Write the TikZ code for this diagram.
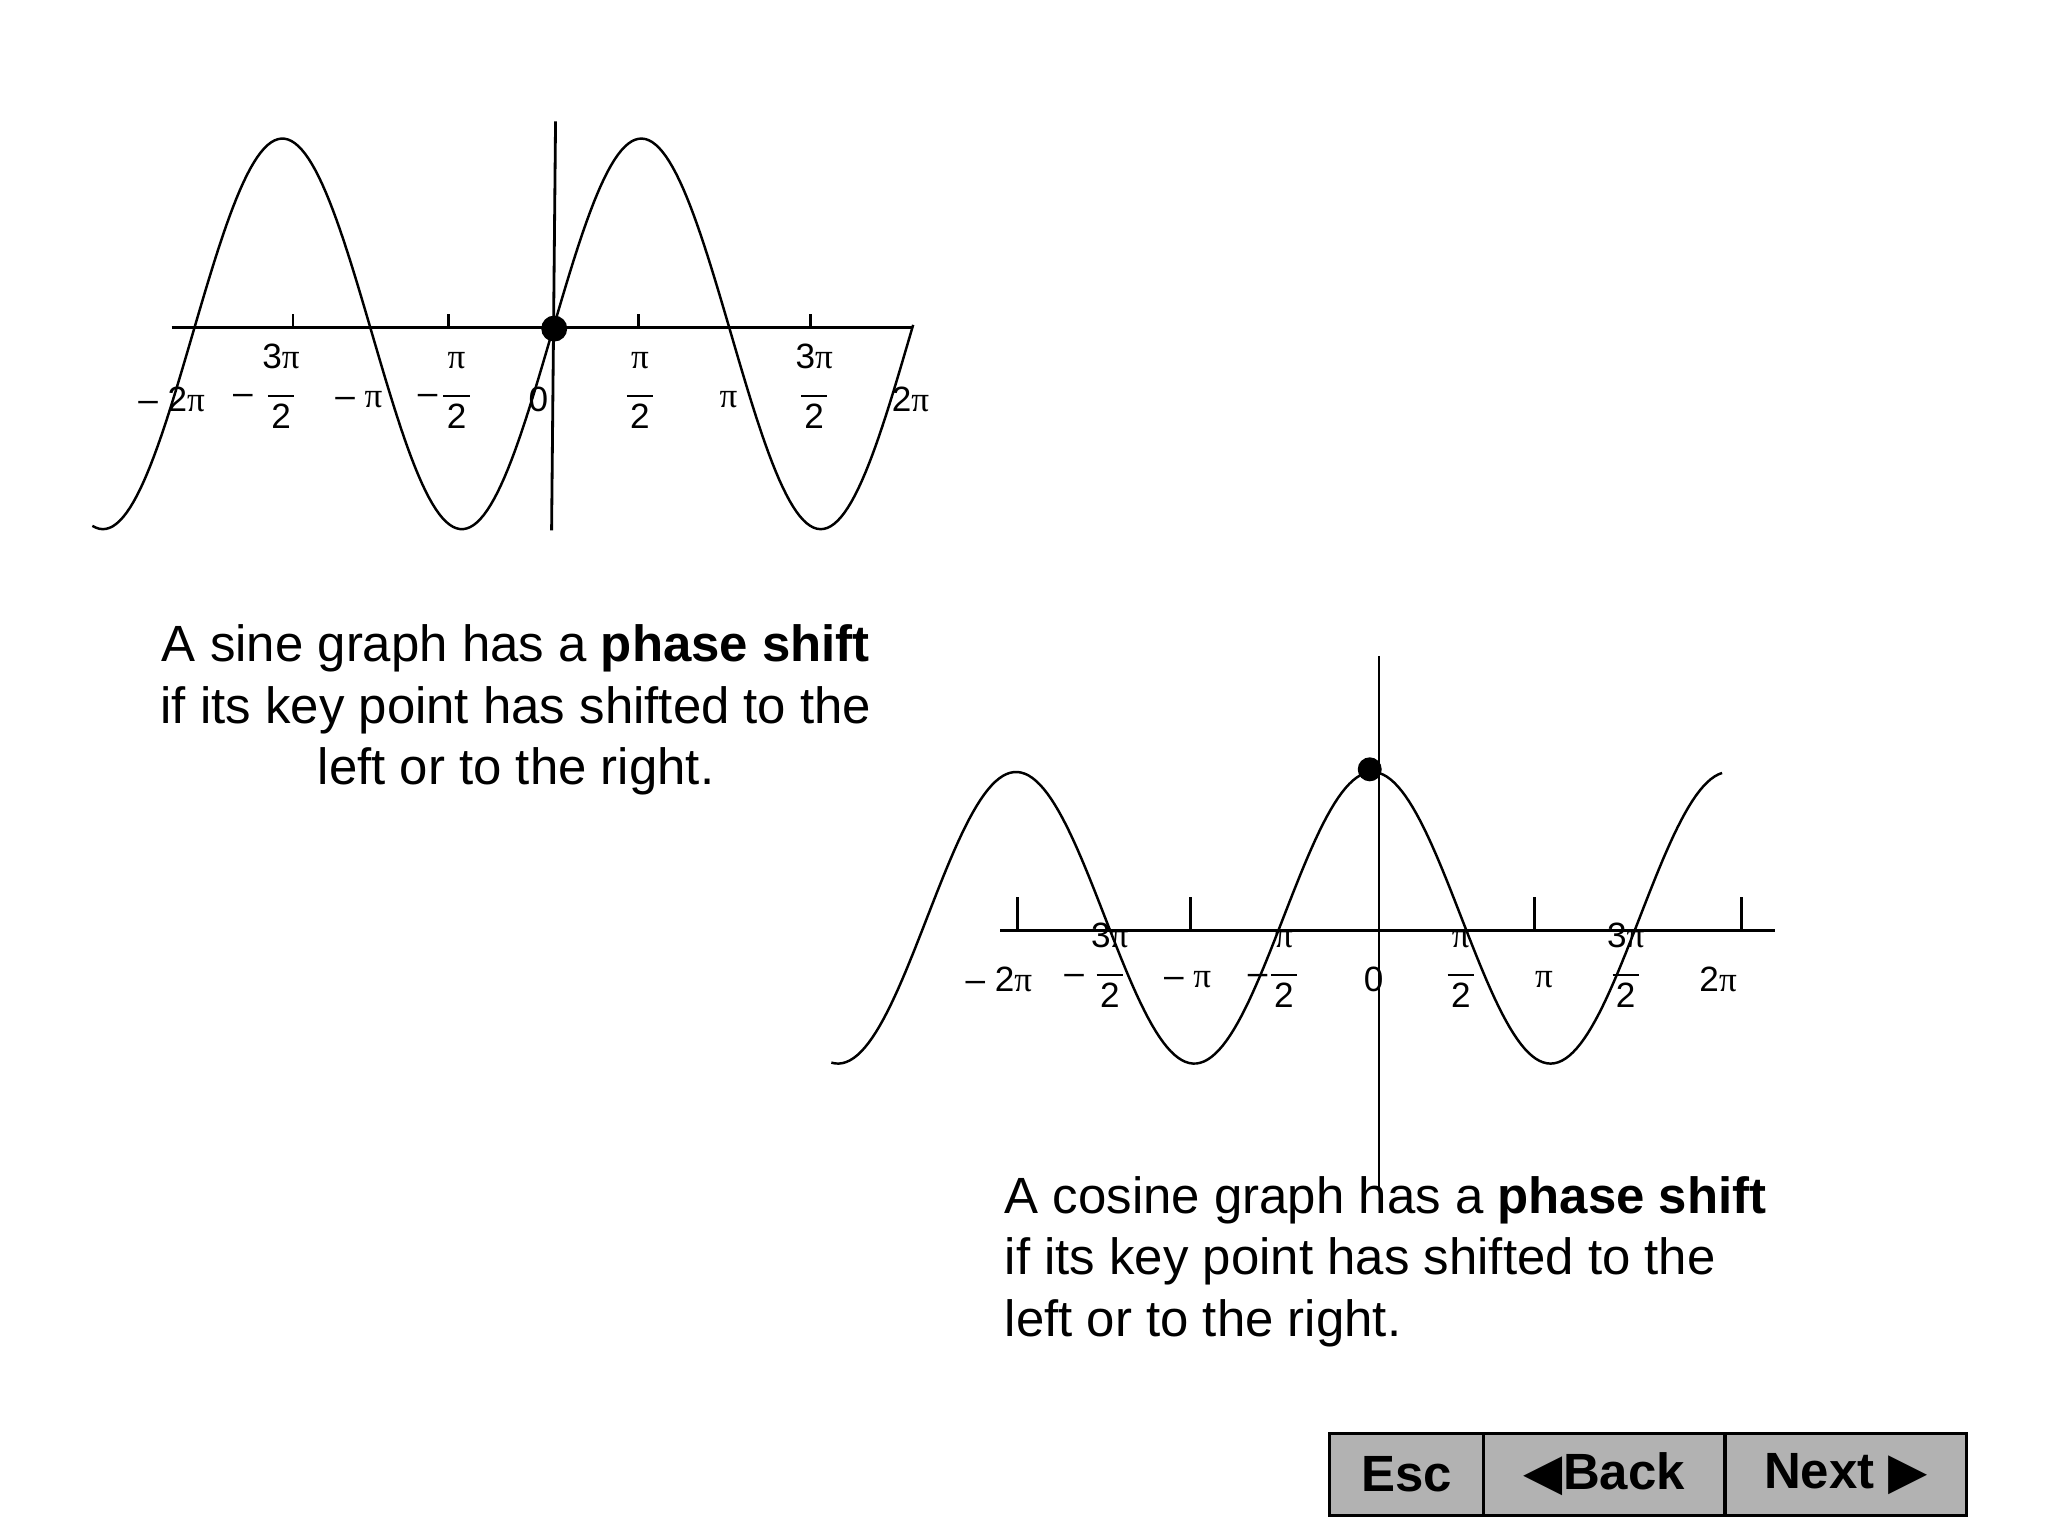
\documentclass[tikz,border=0pt]{standalone}
\usepackage{fontspec}
\setmainfont{Liberation Sans}
\newfontfamily\symf{DejaVu Sans}
\newfontfamily\pif{Liberation Serif}
\newcommand{\mypi}{{\pif π}}
\newcommand{\myfr}[2]{\begin{tabular}{@{}c@{}}#1\\[-3pt]\rule{0.75em}{0.4pt}\\[-2pt]#2\end{tabular}}
\tikzset{lab/.style={font=\fontsize{10}{11}\selectfont,inner sep=0pt},
 curve/.style={line width=0.7pt},
 ax/.style={line width=0.8pt},
 dot/.style={circle,fill=black,inner sep=0pt,minimum size=#1},
 btn/.style={draw=black,line width=1pt,fill=gray!60,minimum height=0.82cm,font=\fontsize{14.5}{16}\selectfont\bfseries}}
\begin{document}
\begin{tikzpicture}[x=0.0132cm,y=-0.0132cm]
\useasboundingbox (0,0) rectangle (1552,1164);
% top graph
\draw[ax] (130,248) -- (692,248);
\draw[ax] (421,92) -- (418,402);
\foreach \t in {222,340,484,614} \draw[ax] (\t,238) -- (\t,248);
\draw[curve] plot[domain=70:692,samples=240] (\x,{253-148*sin((\x-418)/272*360)});
\node[dot=0.26cm] (k1) at (420,249) {};
\node[lab] (a1) at (130,303) {– 2\mypi};
\node[lab] (a2) at (184,303) {–};
\node[lab] (a3) at (213,296) {\myfr{3\mypi}{2}};
\node[lab] (a4) at (272,303) {– \mypi};
\node[lab] (a5) at (324,303) {–};
\node[lab] (a6) at (346,296) {\myfr{\mypi}{2}};
\node[lab] (a7) at (408,303) {0};
\node[lab] (a8) at (485,296) {\myfr{\mypi}{2}};
\node[lab] (a9) at (552,303) {\mypi};
\node[lab] (a10) at (617,296) {\myfr{3\mypi}{2}};
\node[lab] (a11) at (690,303) {2\mypi};
\node[font=\fontsize{14.5}{17.5}\selectfont,align=center] (t1) at (391,538) {A sine graph has a \textbf{phase shift}\\if its key point has shifted to the\\left or to the right.};
% bottom graph
\draw[ax] (758,705) -- (1345,705);
\draw[ax] (1045,497) -- (1045,900);
\foreach \t in {771,902,1163,1320} \draw[ax] (\t,680) -- (\t,705);
\draw[curve] plot[domain=630:1305,samples=240] (\x,{695.5-110.5*cos((\x-1040)/270*360)});
\node[dot=0.24cm] (k2) at (1038,583) {};
\node[lab] (b1) at (757,742) {– 2\mypi};
\node[lab] (b2) at (814,742) {–};
\node[lab] (b3) at (841,735) {\myfr{3\mypi}{2}};
\node[lab] (b4) at (900,742) {– \mypi};
\node[lab] (b5) at (953,742) {–};
\node[lab] (b6) at (973,735) {\myfr{\mypi}{2}};
\node[lab] (b7) at (1041,742) {0};
\node[lab] (b8) at (1107,735) {\myfr{\mypi}{2}};
\node[lab] (b9) at (1170,742) {\mypi};
\node[lab] (b10) at (1232,735) {\myfr{3\mypi}{2}};
\node[lab] (b11) at (1302,742) {2\mypi};
\node[font=\fontsize{14.5}{17.5}\selectfont,align=left,anchor=west] (t2) at (752,956) {A cosine graph has a \textbf{phase shift}\\if its key point has shifted to the\\left or to the right.};
% buttons
\node[btn,minimum width=117*0.0132cm,anchor=north west] (esc) at (1006,1085) {Esc};
\node[btn,minimum width=183*0.0132cm,anchor=north west] (back) at (1123,1085) {{\symf ◀}Back};
\node[btn,minimum width=183*0.0132cm,anchor=north west] (next) at (1306,1085) {Next {\symf ▶}};
\end{tikzpicture}
\end{document}
